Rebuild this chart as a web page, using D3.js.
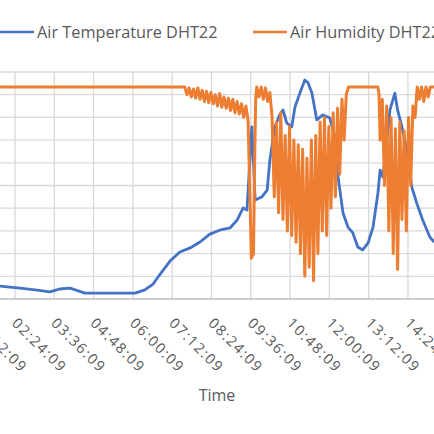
<!DOCTYPE html>
<html><head><meta charset="utf-8">
<script src="https://cdn.jsdelivr.net/npm/d3@7"></script>
<style>body{margin:0;background:#fff}svg{display:block}</style>
</head><body>
<svg id="c" width="434" height="434"></svg>
<script>
// time in minutes since 00:00:09
const tickTimes = [72,144,216,288,360,432,504,576,648,720,792,864];
const tickLabels = ["01:12:09","02:24:09","03:36:09","04:48:09","06:00:09","07:12:09","08:24:09","09:36:09","10:48:09","12:00:09","13:12:09","14:24:09"];
const temperature = [[116,5.7],[153,4.8],[181,4.0],[208,3.1],[226,4.4],[245,4.8],[272,2.6],[300,2.6],[336,2.6],[364,2.6],[382,4.0],[397,6.6],[410,11],[428,16.7],[446,20.7],[465,22.5],[483,25.1],[501,28.6],[520,30.4],[538,31.3],[551,34.8],[562,40.1],[569,39.2],[578,75.8],[584,43.6],[596,44.9],[606,48],[611,61.2],[620,75.8],[629,81.1],[635,83.3],[642,77.5],[651,75.8],[657,84.6],[666,90.7],[675,96.5],[681,95.2],[688,90.7],[697,78.9],[708,81.1],[721,79.7],[730,71.4],[736,53.7],[745,37.9],[754,31.7],[763,29.1],[772,22.9],[781,21.6],[791,24.7],[800,31.7],[809,46.7],[813,56.8],[818,53.7],[825,68.7],[831,83.3],[840,90.7],[845,83.3],[853,75.8],[862,65.6],[871,49.3],[880,42.3],[891,34.8],[904,27.3],[912,25.1]];
const humidity = [[116,93.4],[455,93.4],[459,90],[463,93],[467,89],[471,92.5],[475,88.5],[479,93],[483,88],[487,92],[491,87],[495,91.5],[499,86.5],[503,91],[507,86],[511,90],[515,85],[519,90.5],[523,84.5],[527,89],[531,84],[535,88.5],[539,83],[543,88],[547,82],[551,87],[555,81.5],[559,86],[563,80],[567,85],[571,79],[575,40],[577,18],[581,20],[583,60],[585,88],[587,93.4],[591,89],[595,93.4],[599,88],[603,93],[607,87],[611,91],[615,80],[619,45],[623,78],[627,38],[631,82],[635,35],[639,72],[643,30],[647,76],[651,28],[655,70],[659,25],[663,68],[667,20],[671,66],[675,10],[679,62],[683,14],[687,70],[691,8],[695,72],[699,20],[703,78],[707,30],[711,80],[715,28],[719,76],[723,40],[727,82],[731,45],[735,84],[739,55],[743,88],[747,70],[751,90],[755,93.4],[809,93.4],[811,90],[813,70],[817,88],[821,50],[825,85],[829,30],[833,80],[837,20],[841,75],[845,13],[849,78],[853,35],[857,74],[861,30],[865,80],[869,50],[873,85],[877,80],[881,93.4],[885,88],[889,93.4],[893,87],[897,93.4],[901,89],[905,93.4],[912,93.4]];
const yTicks = [0,10,20,30,40,50,60,70,80,90,100];

const svg = d3.select("#c");
const x = d3.scaleLinear().domain([116.5,911.7]).range([0,434]);
const y = d3.scaleLinear().domain([0,100]).range([299,72]);
const font = "'Open Sans', 'Liberation Sans', sans-serif";

svg.append("g").selectAll("line").data(yTicks.slice(1)).join("line")
  .attr("x1",0).attr("x2",434).attr("y1",d=>y(d)).attr("y2",d=>y(d))
  .attr("stroke","#d9d9d9").attr("stroke-width",1.3);
svg.append("g").selectAll("line").data(tickTimes).join("line")
  .attr("x1",d=>x(d)).attr("x2",d=>x(d)).attr("y1",72).attr("y2",299)
  .attr("stroke","#d9d9d9").attr("stroke-width",1.3);
svg.append("line").attr("x1",0).attr("x2",434).attr("y1",y(0)).attr("y2",y(0))
  .attr("stroke","#bfbfbf").attr("stroke-width",1.3);

const line = d3.line().x(d=>x(d[0])).y(d=>y(d[1]));
svg.append("path").datum(temperature).attr("d",line).attr("fill","none")
  .attr("stroke","#4472C4").attr("stroke-width",2.8).attr("stroke-linejoin","round");
svg.append("path").datum(humidity).attr("d",line).attr("fill","none")
  .attr("stroke","#ED7D31").attr("stroke-width",3).attr("stroke-linejoin","round");

svg.append("g").selectAll("text").data(tickTimes).join("text")
  .attr("transform",(d)=>`translate(${x(d)-4},${324}) rotate(45)`)
  .attr("font-family",font).attr("font-size",14.5).attr("letter-spacing",1.6).attr("fill","#595959")
  .text((d,i)=>tickLabels[i]);

svg.append("text").attr("x",217).attr("y",401).attr("text-anchor","middle")
  .attr("font-family",font).attr("font-size",16).attr("fill","#595959").text("Time");

const leg = [["Air Temperature DHT22","#4472C4",0],["Air Humidity DHT22","#ED7D31",253]];
leg.forEach(([t,c,lx])=>{
  svg.append("line").attr("x1",lx).attr("x2",lx+34).attr("y1",32).attr("y2",32)
    .attr("stroke",c).attr("stroke-width",2.6);
  svg.append("text").attr("x",lx+37).attr("y",37.5).attr("font-family",font)
    .attr("font-size",16.3).attr("fill","#595959").text(t);
});
</script></body></html>
